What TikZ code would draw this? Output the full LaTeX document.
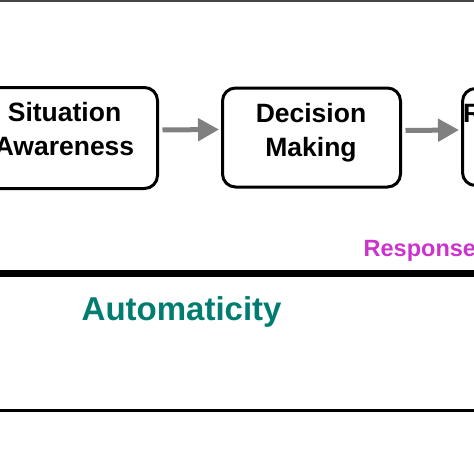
\documentclass[tikz,border=0pt]{standalone}
\usepackage{fontspec}
\setmainfont{Liberation Sans}
\usetikzlibrary{arrows.meta}
\definecolor{tealtxt}{RGB}{0,125,112}
\definecolor{magtxt}{RGB}{204,51,204}
\definecolor{arrowgrey}{RGB}{128,128,128}
\definecolor{topgrey}{RGB}{70,70,70}
\tikzset{
  stagebox/.style={draw=black, line width=3pt, rounded corners=13pt, fill=white, inner sep=0pt},
  stagetxt/.style={font=\fontsize{26.5}{33.5}\selectfont\bfseries, align=center, anchor=base, inner sep=0pt},
  flow/.style={draw=arrowgrey, line width=5pt, -{Triangle[length=21pt,width=22pt]}, shorten <=3.5pt, shorten >=2pt},
}
\begin{document}
\begin{tikzpicture}[x=1pt,y=-1pt]
\useasboundingbox (0,0) rectangle (474,474);
\fill[white] (0,0) rectangle (474,474);
% top bar
\draw[topgrey, line width=2.5pt] (0,1) -- (474,1);
% boxes
\node[stagebox, minimum width=196pt, minimum height=101pt] (b1) at (59.5,138) {};
\node[stagebox, minimum width=178pt, minimum height=99pt] (b2) at (311.5,137.5) {};
\node[stagebox, minimum width=180pt, minimum height=97pt] (b3) at (552.5,137) {};
% texts
\node[stagetxt] (t1) at (64.5,155) {Situation\\Awareness};
\node[stagetxt] (t2) at (311,156) {Decision\\Making};
\node[stagetxt, anchor=base west] (t3) at (463,122) {Response};
% arrows
\draw[flow] ([yshift=8pt]b1.east) -- ([yshift=8pt]b2.west);
\draw[flow] ([yshift=7pt]b2.east) -- ([yshift=7pt]b3.west);
% labels
\node[font=\fontsize{23.5}{28}\selectfont\bfseries, text=magtxt, anchor=base west, inner sep=0pt] (resp) at (363.5,256) {Response};
\node[font=\fontsize{33}{40}\selectfont\bfseries, text=tealtxt, anchor=base west, inner sep=0pt] (auto) at (81.5,320) {Automaticity};
% horizontal rules
\draw[black, line width=6.5pt] (0,273.5) -- (474,273.5);
\draw[black, line width=2.5pt] (0,410.5) -- (474,410.5);
\end{tikzpicture}
\end{document}
